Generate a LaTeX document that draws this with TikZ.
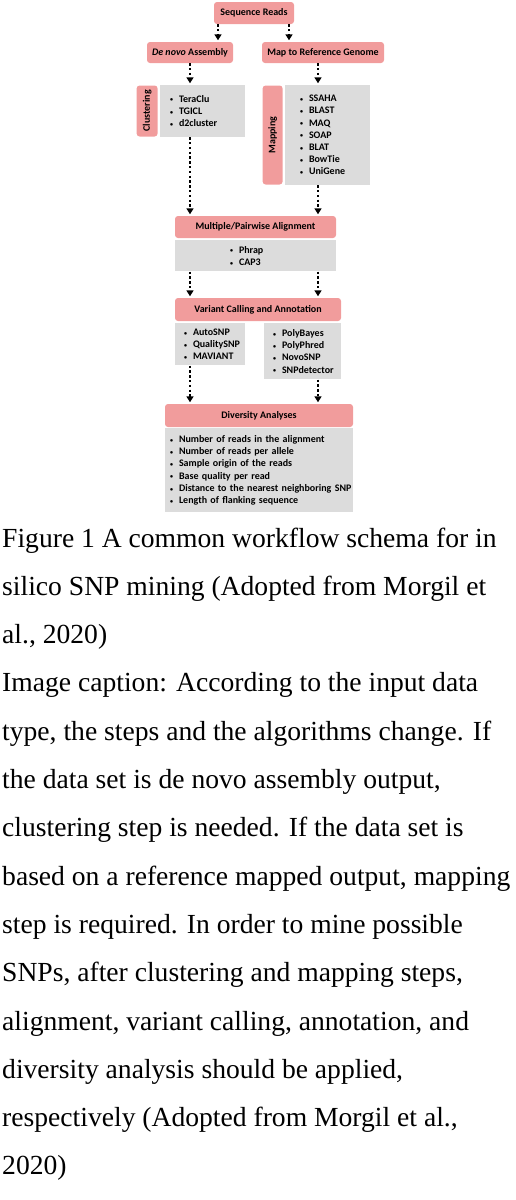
\documentclass[tikz,border=0pt]{standalone}
\usepackage{fontspec}
\setmainfont{Liberation Serif}
\newfontfamily\carlito{Carlito}
\usepackage{tikz}
\usetikzlibrary{positioning, arrows.meta}
\definecolor{headpink}{HTML}{F19C9C}
\definecolor{listgray}{HTML}{DCDCDC}
\newcommand{\itm}[1]{\mbox{\makebox[9pt][l]{\raisebox{0.3pt}{\fontsize{6}{6}\selectfont\textbullet}}#1}}

\begin{document}
\begin{tikzpicture}[
  x=1pt, y=-1pt,
  every node/.style={font=\carlito\bfseries\fontsize{10}{12.2}\selectfont},
  head/.style={fill=headpink, rounded corners=3pt, inner sep=0pt,
               minimum height=22pt},
  sidelbl/.style={head, rotate=90},
  listbox/.style={fill=listgray, inner ysep=0pt, align=left},
  arr/.style={-{Triangle[width=7pt,length=6pt]}, line width=2.4pt,
              dash pattern=on 2.4pt off 2.4pt, shorten >=1.5pt},
  caption/.style={font=\fontsize{27.6}{33}\selectfont, anchor=base west,
                  inner sep=0pt}
]
\useasboundingbox (0,0) rectangle (515,1200);

% inputs
\node[head, minimum width=80pt] (reads) at (254,13) {Sequence Reads};
\node[head, minimum width=86pt, minimum height=21pt] (denovo) at (190,52.5)
  {\textit{De novo} Assembly};
\node[head, minimum width=122pt, minimum height=21pt] (map) at (323,52.5)
  {Map to Reference Genome};

% clustering / mapping
\node[listbox, text width=65pt, inner xsep=10pt, minimum height=52pt]
  (clusterbox) at (202.5,111) {\itm{TeraClu}\\\itm{TGICL}\\\itm{d2cluster}};
\node[sidelbl, minimum width=51pt, minimum height=21pt,
      left=2pt of clusterbox, anchor=south] (clusterlbl) {Clustering};
\node[listbox, text width=55pt, inner xsep=15pt, minimum height=100pt]
  (mapbox) at (327.5,135) {\itm{SSAHA}\\\itm{BLAST}\\\itm{MAQ}\\\itm{SOAP}\\
  \itm{BLAT}\\\itm{BowTie}\\\itm{UniGene}};
\node[sidelbl, minimum width=99pt, minimum height=20pt,
      left=2pt of mapbox, anchor=south] (maplbl) {Mapping};

% alignment
\node[head, minimum width=161pt] (align) at (255.5,227)
  {Multiple/Pairwise Alignment};
\node[listbox, text width=51pt, inner xsep=55pt, minimum height=31pt,
      below=2pt of align] (alignbox) {\itm{Phrap}\\\itm{CAP3}};

% variant calling
\node[head, minimum width=166pt, minimum height=23pt] (variant) at (258,309.5)
  {Variant Calling and Annotation};
\node[listbox, text width=52pt, inner xsep=9pt, minimum height=42pt,
      below=2pt of variant.south west, anchor=north west] (vleft)
  {\itm{AutoSNP}\\\itm{QualitySNP}\\\itm{MAVIANT}};
\node[listbox, text width=59pt, inner xsep=9pt, minimum height=56pt,
      below=2pt of variant.south east, anchor=north east] (vright)
  {\itm{PolyBayes}\\\itm{PolyPhred}\\\itm{NovoSNP}\\\itm{SNPdetector}};

% diversity
\node[head, minimum width=188pt, minimum height=23pt] (diversity) at (259,415.5)
  {Diversity Analyses};
\node[listbox, text width=178pt, inner xsep=5pt, minimum height=84pt,
      below=1pt of diversity] (divbox)
  {\itm{Number of reads in the alignment}\\
   \itm{Number of reads per allele}\\
   \itm{Sample origin of the reads}\\
   \itm{Base quality per read}\\
   \itm{Distance to the nearest neighboring SNP}\\
   \itm{Length of flanking sequence}};

% wires
\coordinate (lin) at (218,0);
\coordinate (rin) at (289,0);
\coordinate (lcol) at (190,0);
\coordinate (rcol) at (318,0);
\draw[arr] (lin |- reads.south) -- (lin |- denovo.north);
\draw[arr] (rin |- reads.south) -- (rin |- map.north);
\draw[arr] (lcol |- denovo.south) -- (lcol |- clusterbox.north);
\draw[arr] (rcol |- map.south) -- (rcol |- mapbox.north);
\foreach \a/\b in {clusterbox/align, alignbox/variant, vleft/diversity}
  \draw[arr] (lcol |- \a.south) -- (lcol |- \b.north);
\foreach \a/\b in {mapbox/align, alignbox/variant, vright/diversity}
  \draw[arr] (rcol |- \a.south) -- (rcol |- \b.north);

% caption
\foreach \txt [count=\i from 0] in {
  {Figure 1 A common workflow schema for in},
  {silico SNP mining (Adopted from Morgil et},
  {al., 2020)},
  {Image caption: According to the input data},
  {type, the steps and the algorithms change. If},
  {the data set is de novo assembly output,},
  {clustering step is needed. If the data set is},
  {based on a reference mapped output, mapping},
  {step is required. In order to mine possible},
  {SNPs, after clustering and mapping steps,},
  {alignment, variant calling, annotation, and},
  {diversity analysis should be applied,},
  {respectively (Adopted from Morgil et al.,},
  {2020)}}
  \node[caption] (cap\i) at (2,{547+48.3*\i}) {\txt};
\end{tikzpicture}
\end{document}
